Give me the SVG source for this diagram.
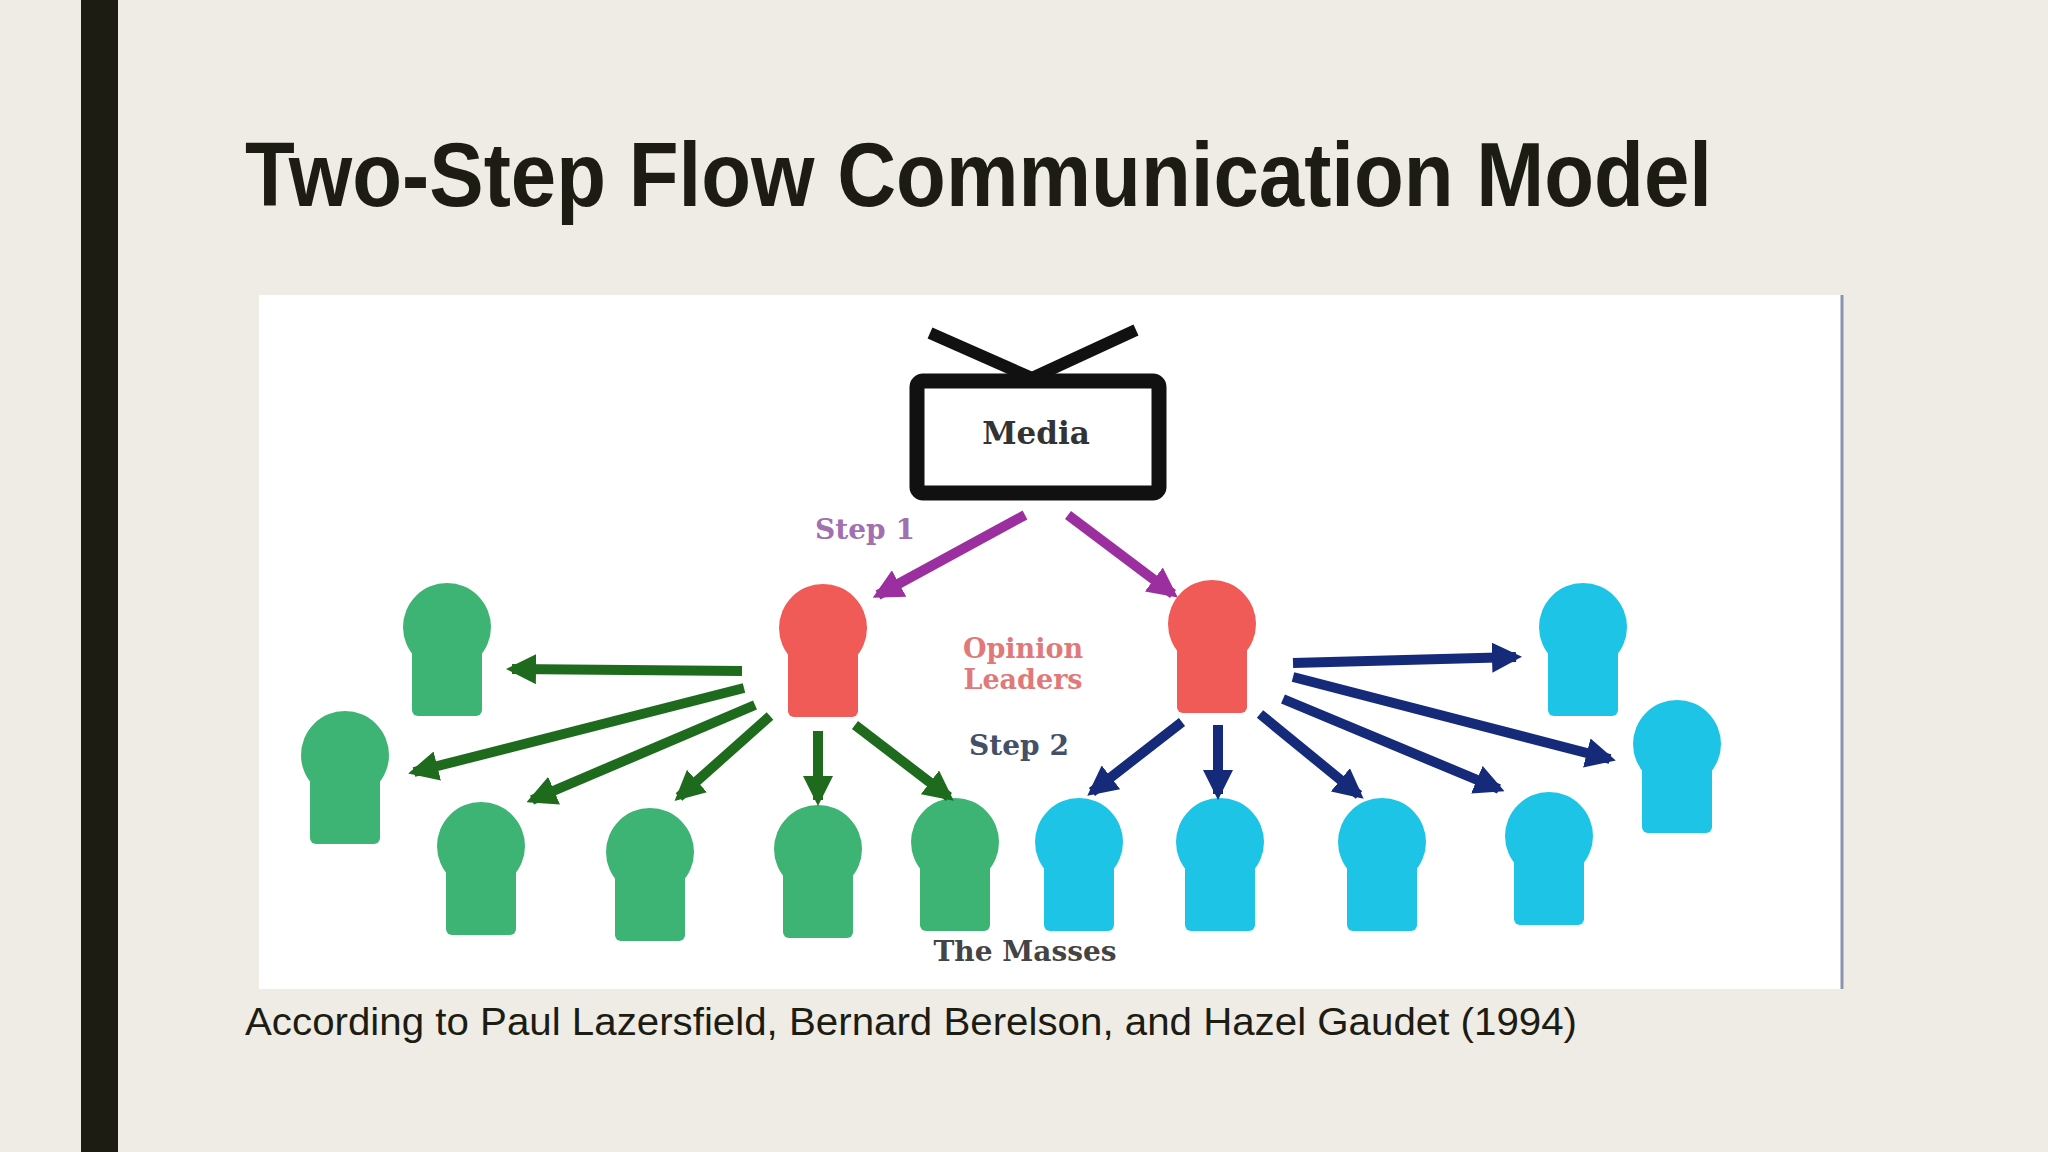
<svg xmlns="http://www.w3.org/2000/svg" width="2048" height="1152" viewBox="0 0 2048 1152">
<style>
.lbl{font-family:"DejaVu Serif","Liberation Serif",serif;font-weight:bold;text-anchor:middle}
.g{fill:#3db374}.b{fill:#1dc4e6}.r{fill:#f05a57}
.ag{stroke:#1e6b1e;stroke-width:10;fill:none;marker-end:url(#mg)}
.ab{stroke:#162a7a;stroke-width:10;fill:none;marker-end:url(#mb)}
.ap{stroke:#9b2fa0;stroke-width:10;fill:none;marker-end:url(#mp)}
</style>
<defs>
<g id="fig"><circle cx="0" cy="0" r="44"/><rect x="-35" y="10" width="70" height="79" rx="6"/></g>
<marker id="mg" viewBox="0 0 10 10" refX="8" refY="5" markerWidth="3" markerHeight="3" orient="auto"><path d="M0,0L10,5L0,10z" fill="#1e6b1e"/></marker>
<marker id="mb" viewBox="0 0 10 10" refX="8" refY="5" markerWidth="3" markerHeight="3" orient="auto"><path d="M0,0L10,5L0,10z" fill="#162a7a"/></marker>
<marker id="mp" viewBox="0 0 10 10" refX="8" refY="5" markerWidth="3" markerHeight="3" orient="auto"><path d="M0,0L10,5L0,10z" fill="#9b2fa0"/></marker>
</defs>
<rect width="2048" height="1152" fill="#efece5"/>
<rect x="81" y="0" width="37" height="1152" fill="#1c1c12"/>
<text x="245" y="206" font-family="Liberation Sans,Arial,sans-serif" font-weight="bold" font-size="90" fill="#1c1c12" textLength="1467" lengthAdjust="spacingAndGlyphs">Two-Step Flow Communication Model</text>
<rect x="259" y="295" width="1584" height="694" fill="#ffffff"/>
<line x1="1842" y1="295" x2="1842" y2="989" stroke="#8a94b0" stroke-width="3"/>
<g id="media">
<line x1="930" y1="333" x2="1032" y2="378" stroke="#111" stroke-width="12"/>
<line x1="1136" y1="330" x2="1032" y2="378" stroke="#111" stroke-width="12"/>
<rect x="917" y="381" width="242" height="112" rx="6" fill="#fff" stroke="#111" stroke-width="15"/>
<text class="lbl" x="1036" y="444" font-size="31" fill="#333">Media</text>
</g>
<g id="leaders" class="r">
<use href="#fig" x="823" y="628"/>
<use href="#fig" x="1212" y="624"/>
</g>
<g id="masses-green" class="g">
<use href="#fig" x="447" y="627"/><use href="#fig" x="345" y="755"/><use href="#fig" x="481" y="846"/>
<use href="#fig" x="650" y="852"/><use href="#fig" x="818" y="849"/><use href="#fig" x="955" y="842"/>
</g>
<g id="masses-blue" class="b">
<use href="#fig" x="1079" y="842"/><use href="#fig" x="1220" y="842"/><use href="#fig" x="1382" y="842"/>
<use href="#fig" x="1549" y="836"/><use href="#fig" x="1583" y="627"/><use href="#fig" x="1677" y="744"/>
</g>
<g id="connectors">
<line class="ap" x1="1025" y1="515" x2="878" y2="595"/>
<line class="ap" x1="1068" y1="515" x2="1173" y2="594"/>
<line class="ag" x1="742" y1="671" x2="512" y2="669"/>
<line class="ag" x1="744" y1="688" x2="414" y2="772"/>
<line class="ag" x1="755" y1="705" x2="532" y2="800"/>
<line class="ag" x1="770" y1="716" x2="679" y2="797"/>
<line class="ag" x1="818" y1="731" x2="818" y2="800"/>
<line class="ag" x1="855" y1="725" x2="949" y2="797"/>
<line class="ab" x1="1293" y1="663" x2="1516" y2="657"/>
<line class="ab" x1="1293" y1="677" x2="1610" y2="759"/>
<line class="ab" x1="1283" y1="699" x2="1499" y2="789"/>
<line class="ab" x1="1260" y1="714" x2="1359" y2="795"/>
<line class="ab" x1="1218" y1="725" x2="1218" y2="794"/>
<line class="ab" x1="1182" y1="722" x2="1092" y2="792"/>
</g>
<text class="lbl" x="865" y="539" font-size="28" fill="#a070b0">Step 1</text>
<text class="lbl" x="1023" y="658" font-size="27" fill="#e07a7a">Opinion</text>
<text class="lbl" x="1023" y="689" font-size="27" fill="#e07a7a">Leaders</text>
<text class="lbl" x="1019" y="755" font-size="28" fill="#445066">Step 2</text>
<text class="lbl" x="1025" y="961" font-size="28" fill="#444">The Masses</text>
<text x="245" y="1035" font-family="Liberation Sans,Arial,sans-serif" font-size="38" fill="#1c1c12" textLength="1332" lengthAdjust="spacingAndGlyphs">According to Paul Lazersfield, Bernard Berelson, and Hazel Gaudet (1994)</text>
</svg>
